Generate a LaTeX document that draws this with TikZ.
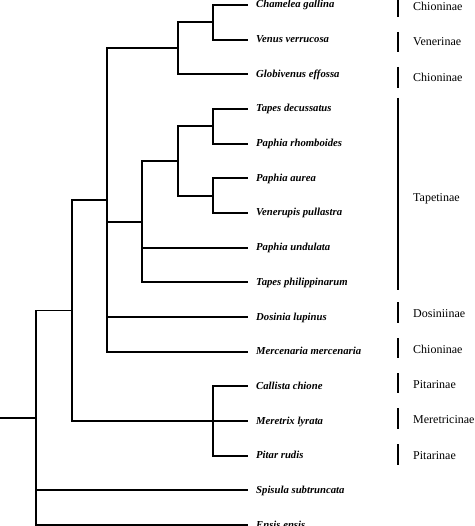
\documentclass[tikz,border=0pt]{standalone}
\usepackage{fontspec}
\setmainfont{Liberation Serif}
\usetikzlibrary{positioning}

\begin{document}
\begin{tikzpicture}[
  x=1pt, y=-1pt,
  branch/.style={line width=1.8pt},
  leaf/.style={anchor=base west, inner sep=0pt, font=\fontsize{10.7}{12}\selectfont\bfseries\itshape},
  grp/.style={anchor=base west, inner sep=0pt, font=\fontsize{12}{14}\selectfont},
  bar/.style={line width=1.3pt}
]
\useasboundingbox (0,0) rectangle (474,526);

% leaf tips and names
\coordinate (t1) at (248,5);       \node[leaf] (cg) at (256,8)      {Chamelea gallina};
\coordinate (t2) at (248,39.67);   \node[leaf] (vv) at (256,42.67)  {Venus verrucosa};
\coordinate (t3) at (248,74.33);   \node[leaf] (ge) at (256,77.33)  {Globivenus effossa};
\coordinate (t4) at (248,109);     \node[leaf] (td) at (256,112)    {Tapes decussatus};
\coordinate (t5) at (248,143.67);  \node[leaf] (pr) at (256,146.67) {Paphia rhomboides};
\coordinate (t6) at (248,178.33);  \node[leaf] (pa) at (256,181.33) {Paphia aurea};
\coordinate (t7) at (248,213);     \node[leaf] (vp) at (256,216)    {Venerupis pullastra};
\coordinate (t8) at (248,247.67);  \node[leaf] (pu) at (256,250.67) {Paphia undulata};
\coordinate (t9) at (248,282.33);  \node[leaf] (tp) at (256,285.33) {Tapes philippinarum};
\coordinate (t10) at (248,317);    \node[leaf] (dl) at (256,320)    {Dosinia lupinus};
\coordinate (t11) at (248,351.67); \node[leaf] (mm) at (256,354.67) {Mercenaria mercenaria};
\coordinate (t12) at (248,386.33); \node[leaf] (cc) at (256,389.33) {Callista chione};
\coordinate (t13) at (248,421);    \node[leaf] (ml) at (256,424)    {Meretrix lyrata};
\coordinate (t14) at (248,455.67); \node[leaf] (pt) at (256,458.67) {Pitar rudis};
\coordinate (t15) at (248,490.33); \node[leaf] (ss) at (256,493.33) {Spisula subtruncata};
\coordinate (t16) at (248,525);    \node[leaf] (ee) at (256,528)    {Ensis ensis};

% internal nodes
\coordinate (nA) at (213,22.33);
\coordinate (nB) at (178,48.33);
\coordinate (nC) at (213,126.33);
\coordinate (nD) at (213,195.67);
\coordinate (nE) at (178,161);
\coordinate (nF) at (142,221.67);
\coordinate (nG) at (107,200);
\coordinate (nH) at (213,421);
\coordinate (nI) at (72,310.5);
\coordinate (nJ) at (36,417.67);
\coordinate (root) at (0,417.67);

% branches
\draw[branch] (nA) |- (t1) (nA) |- (t2);
\draw[branch] (nB) |- (nA) (nB) |- (t3);
\draw[branch] (nC) |- (t4) (nC) |- (t5);
\draw[branch] (nD) |- (t6) (nD) |- (t7);
\draw[branch] (nE) |- (nC) (nE) |- (nD);
\draw[branch] (nF) |- (nE) (nF) |- (t8) (nF) |- (t9);
\draw[branch] (nG) |- (nB) (nG) |- (nF) (nG) |- (t10) (nG) |- (t11);
\draw[branch] (nH) |- (t12) (nH) -- (t13) (nH) |- (t14);
\draw[branch] (nI) |- (nG) (nI) |- (nH);
\draw[branch] (nJ) |- (nI) (nJ) |- (t15) (nJ) |- (t16);
\draw[branch] (root) -- (nJ);

% subfamilies
\draw[bar] (398,-3) -- (398,17);   \node[grp] (g1) at (413,11)  {Chioninae};
\draw[bar] (398,32) -- (398,52);   \node[grp] (g2) at (413,46)  {Venerinae};
\draw[bar] (398,67) -- (398,88);   \node[grp] (g3) at (413,81.5) {Chioninae};
\draw[bar] (398,98) -- (398,290);  \node[grp] (g4) at (413,202) {Tapetinae};
\draw[bar] (398,302) -- (398,323); \node[grp] (g5) at (413,317) {Dosiniinae};
\draw[bar] (398,338) -- (398,358); \node[grp] (g6) at (413,353) {Chioninae};
\draw[bar] (398,373) -- (398,393); \node[grp] (g7) at (413,388) {Pitarinae};
\draw[bar] (398,408) -- (398,429); \node[grp] (g8) at (413,423) {Meretricinae};
\draw[bar] (398,444) -- (398,465); \node[grp] (g9) at (413,459) {Pitarinae};

\end{tikzpicture}
\end{document}
